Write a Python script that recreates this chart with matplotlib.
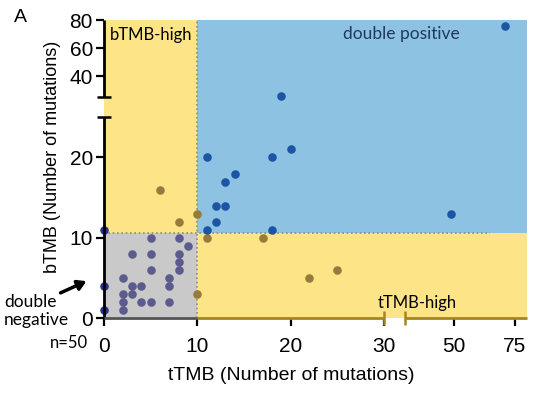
import matplotlib

matplotlib.use("Agg")
import matplotlib.pyplot as plt
import numpy as np
from matplotlib.patches import FancyArrowPatch, Rectangle

# tTMB / bTMB values, grouped by how they are coloured
edge_t = [0, 0, 0]
edge_b = [11, 4, 1]
neg_t = [5, 8, 9, 3, 5, 8, 8, 5, 8, 2, 7, 3, 4, 7, 2, 3, 2, 4, 5, 7, 2]
neg_b = [10, 10, 9, 8, 8, 8, 7, 6, 6, 5, 5, 4, 4, 4, 3, 3, 2, 2, 2, 2, 1]
single_t = [10, 6, 10, 8, 11, 17, 22, 25]
single_b = [3, 16, 13, 12, 10, 10, 5, 6]
pos_t = [11, 18, 20, 14, 13, 12, 13, 12, 11, 18, 19, 71, 49]
pos_b = [20, 20, 21, 18, 17, 14, 14, 12, 11, 11, 26, 76, 13]

t_cut = 10
b_cut = 10.6
x_ticks = [0, 10, 20, 30, 50, 75]
y_ticks = [0, 10, 20, 40, 60, 80]

YELLOW = "#fde487"
BLUE = "#8dc2e2"
GREY = "#c9c9c9"
GOLD = "#a5851f"


# broken axes: piecewise linear scales with a gap at x=30 and y=25
def fwd_x(x):
    x = np.asarray(x, dtype=float)
    return np.where(x <= 30, x * 280 / 30, 301 + (x - 30) * 2.44)


def inv_x(u):
    u = np.asarray(u, dtype=float)
    return np.where(u <= 280, u * 30 / 280, np.where(u < 301, 30, 30 + (u - 301) / 2.44))


def fwd_y(y):
    y = np.asarray(y, dtype=float)
    return np.where(y <= 25, y * 8, 220 + (y - 25) * 1.4)


def inv_y(v):
    v = np.asarray(v, dtype=float)
    return np.where(v <= 200, v / 8, np.where(v < 220, 25, 25 + (v - 220) / 1.4))


W, H = 541, 394
fig = plt.figure(figsize=(W / 100, H / 100), dpi=100)
ax = fig.add_axes([104 / W, (H - 318) / H, (527 - 104) / W, (318 - 20) / H])
ax.set_xscale("function", functions=(fwd_x, inv_x))
ax.set_yscale("function", functions=(fwd_y, inv_y))
ax.set_xlim(0, 80)
ax.set_ylim(0, 80)

ax.add_patch(Rectangle((0, 0), 80, 80, facecolor=YELLOW, edgecolor="none", zorder=0))
ax.add_patch(Rectangle((t_cut, b_cut), 80 - t_cut, 80 - b_cut, facecolor=BLUE, edgecolor="none", zorder=0))
ax.add_patch(Rectangle((0, 0), t_cut, b_cut, facecolor=GREY, edgecolor="none", zorder=0))
dots = (0, (1, 1.6))
ax.plot([t_cut, t_cut], [0, 80], color="#8a8a8a", lw=1.2, ls=dots, zorder=1)
ax.plot([0, 65], [b_cut, b_cut], color="#8a8a8a", lw=1.2, ls=dots, zorder=1)

ms = 38
ax.scatter(neg_t, neg_b, s=ms, color="#5b5b8d", lw=0, zorder=3, clip_on=False)
ax.scatter(single_t, single_b, s=ms, color="#977b3a", lw=0, zorder=3, clip_on=False)
ax.scatter(pos_t, pos_b, s=ms, color="#1b55a3", lw=0, zorder=3, clip_on=False)
ax.scatter(edge_t, edge_b, s=ms, color="#26358a", lw=0, zorder=3, clip_on=False)

# spines drawn by hand so the breaks show
for s in ax.spines.values():
    s.set_visible(False)
eps = 1e-4
ax.plot([0, 0], [0, 25], color="black", lw=2, clip_on=False, zorder=4, solid_capstyle="butt")
ax.plot([0, 0], [25 + eps, 80], color="black", lw=2, clip_on=False, zorder=4, solid_capstyle="butt")
ax.plot([0, 0], [25, 25 + eps], ls="none", marker="_", ms=10, mew=1.8, color="black", clip_on=False, zorder=4)
ax.plot([0, t_cut], [0, 0], color="#555555", lw=2, clip_on=False, zorder=4, solid_capstyle="butt")
ax.plot([t_cut, 30], [0, 0], color=GOLD, lw=2, clip_on=False, zorder=4, solid_capstyle="butt")
ax.plot([30 + eps, 80], [0, 0], color=GOLD, lw=2, clip_on=False, zorder=4, solid_capstyle="butt")
ax.plot([30, 30 + eps], [0, 0], ls="none", marker="|", ms=10, mew=1.8, color=GOLD, clip_on=False, zorder=4)

tick_font = {"family": "Liberation Sans", "size": 15}
ax.set_xticks(x_ticks)
ax.set_yticks(y_ticks)
ax.set_xticklabels([str(v) for v in x_ticks], fontdict=tick_font)
ax.set_yticklabels([str(v) for v in y_ticks], fontdict=tick_font)
ax.minorticks_off()
ax.tick_params(direction="out", length=6, width=1.6, color="black")
ax.tick_params(axis="x", pad=8)
ax.tick_params(axis="y", pad=2)
for tick, val in zip(ax.xaxis.get_major_ticks(), x_ticks):
    if val == 30:
        tick.tick1line.set_color(GOLD)

ax.set_xlabel("tTMB (Number of mutations)", family="Liberation Sans", size=14)
ax.set_ylabel("bTMB (Number of mutations)", family="Liberation Sans", size=13)
ax.xaxis.set_label_coords(0.443, -0.163)
ax.yaxis.set_label_coords(-0.101, 0.542)

note = {"family": "Lato", "size": 12}
fig.text(110 / W, 1 - 35 / H, "bTMB-high", va="center", ha="left", **note)
fig.text(401 / W, 1 - 34 / H, "double positive", va="center", ha="center", color="#1f3a5c",
         family="Lato", size=12.5)
fig.text(457 / W, 1 - 303 / H, "tTMB-high", va="center", ha="right", **note)
fig.text(4 / W, 1 - 311 / H, "double\nnegative", va="center", ha="left", linespacing=1.2,
         family="Lato", size=12.5)
fig.text(50 / W, 1 - 343 / H, "n=50", va="center", ha="left", **note)
fig.text(20 / W, 1 - 18 / H, "A", va="center", ha="center", family="Liberation Sans", size=14)
fig.add_artist(
    FancyArrowPatch(
        (58 / W, 1 - 294 / H), (89 / W, 1 - 280 / H), transform=fig.transFigure,
        arrowstyle="-|>,head_length=5,head_width=3", mutation_scale=1, lw=2.5, color="black",
    )
)

fig.savefig("out.png", dpi=100)
